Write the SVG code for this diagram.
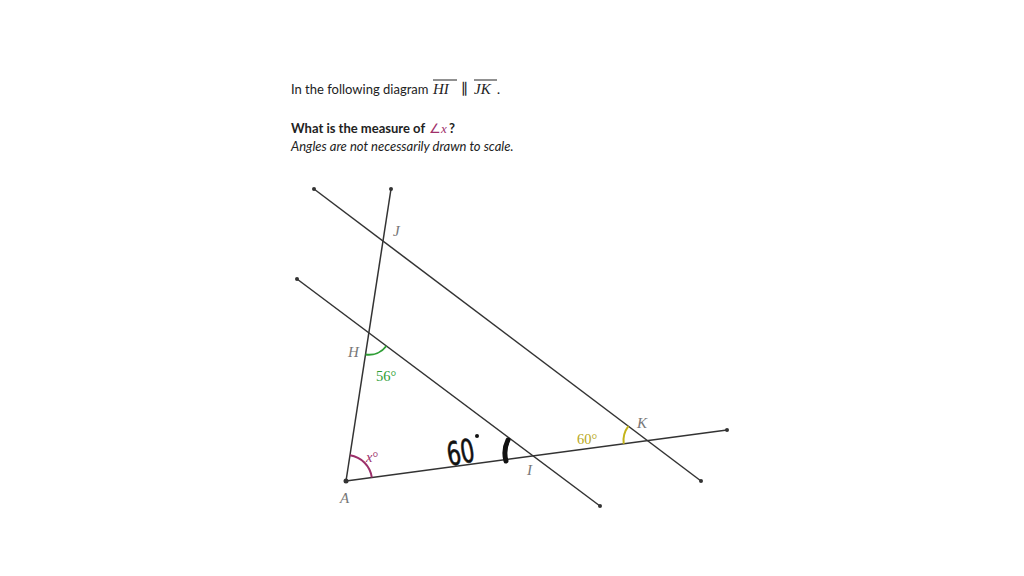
<svg xmlns="http://www.w3.org/2000/svg" width="1024" height="576" viewBox="0 0 1024 576">
<style>
.t{font-family:Lato,"Open Sans",sans-serif;font-size:13px;fill:#222}
.m{font-family:"Liberation Serif","DejaVu Serif",serif;font-style:italic;font-size:15px;fill:#222}
.lbl{font-family:"Liberation Serif","DejaVu Serif",serif;font-style:italic;font-size:15px;fill:#777}
.ln{stroke:#333;stroke-width:1.5;fill:none}
.dot{fill:#333}
.arc{fill:none;stroke-width:2}
.ang{font-family:"Liberation Serif","DejaVu Serif",serif;font-size:14.5px}
</style>
<rect width="1024" height="576" fill="#fff"/>
<g id="header">
<text class="t" x="291" y="94">In the following diagram</text>
<text class="m" x="433" y="94">HI</text>
<text class="m" x="461" y="94" font-style="normal">∥</text>
<text class="m" x="474" y="94">JK</text>
<text class="m" x="497" y="94" font-style="normal">.</text>
<line x1="433" y1="80" x2="457" y2="80" stroke="#222" stroke-width="1"/>
<line x1="474" y1="80" x2="497" y2="80" stroke="#222" stroke-width="1"/>
<text class="t" x="291" y="133" font-weight="bold">What is the measure of</text>
<text x="429" y="133" font-family="'Liberation Serif',serif" font-size="13" fill="#a0306a">∠<tspan font-style="italic">x</tspan></text>
<text class="t" x="449" y="133" font-weight="bold">?</text>
<text class="t" x="291" y="151" font-style="italic">Angles are not necessarily drawn to scale.</text>
</g>
<g id="connectors">
<line class="ln" x1="314" y1="189" x2="701" y2="481"/>
<line class="ln" x1="297" y1="279" x2="600" y2="506"/>
<line class="ln" x1="346" y1="481" x2="391" y2="189"/>
<line class="ln" x1="346" y1="481" x2="727" y2="430"/>
<circle class="dot" cx="314" cy="189" r="2"/>
<circle class="dot" cx="701" cy="481" r="2"/>
<circle class="dot" cx="297" cy="279" r="2"/>
<circle class="dot" cx="600" cy="506" r="2"/>
<circle class="dot" cx="391" cy="189" r="2"/>
<circle class="dot" cx="727" cy="430" r="2"/>
<circle class="dot" cx="346" cy="481" r="2.5"/>
</g>
<g id="node-J"><text class="lbl" x="393" y="236">J</text></g>
<g id="node-H"><text class="lbl" x="348" y="357">H</text></g>
<g id="node-A"><text class="lbl" x="340" y="503">A</text></g>
<g id="node-I"><text class="lbl" x="527" y="475">I</text></g>
<g id="node-K"><text class="lbl" x="637" y="428">K</text></g>
<g id="angle-H">
<path class="arc" stroke="#2e9e35" d="M365.5,354.5 A22,22 0 0 0 386.4,346"/>
<text class="ang" x="376" y="381" fill="#2e9e35">56°</text>
</g>
<g id="angle-A">
<path class="arc" stroke="#9c2f6a" d="M350,455.3 A26,26 0 0 1 371.8,477.5"/>
<text class="ang" x="366" y="462" fill="#9c2f6a"><tspan font-style="italic">x</tspan>°</text>
</g>
<g id="angle-K">
<path class="arc" stroke="#c4b41a" d="M623.7,443.8 A24,24 0 0 1 628.4,426.2"/>
<text class="ang" x="577" y="444" fill="#b8a81a">60°</text>
</g>
<g id="handwriting">
<text x="0" y="0" transform="translate(449,466) rotate(-10) scale(0.7,1.05)" font-family="'DejaVu Sans',sans-serif" font-size="31" fill="#111" stroke="#111" stroke-width="0.6">60</text>
<circle cx="477" cy="436" r="2" fill="#111"/>
<path d="M508,440 Q503,450 506,461" fill="none" stroke="#111" stroke-width="5" stroke-linecap="round"/>
</g>
</svg>
